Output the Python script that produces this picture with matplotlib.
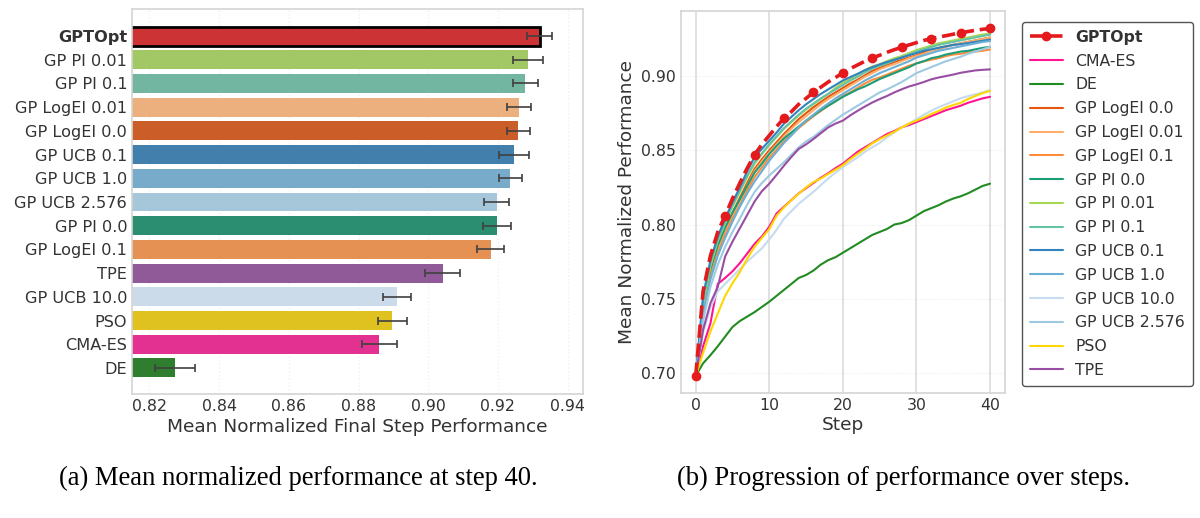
import matplotlib
matplotlib.use("Agg")
import matplotlib.pyplot as plt
import seaborn as sns

# ---------------------------------------------------------------------------
# Data
# ---------------------------------------------------------------------------

bar_methods = ["GPTOpt", "GP PI 0.01", "GP PI 0.1", "GP LogEI 0.01", "GP LogEI 0.0",
               "GP UCB 0.1", "GP UCB 1.0", "GP UCB 2.576", "GP PI 0.0", "GP LogEI 0.1",
               "TPE", "GP UCB 10.0", "PSO", "CMA-ES", "DE"]
bar_means = [0.9320, 0.9286, 0.9279, 0.9260, 0.9259, 0.9245, 0.9236, 0.9197, 0.9197,
             0.9179, 0.9041, 0.8910, 0.8897, 0.8860, 0.8274]
bar_errs = [0.0036, 0.0043, 0.0037, 0.0034, 0.0034, 0.0043, 0.0032, 0.0036, 0.0041,
            0.0039, 0.0050, 0.0040, 0.0041, 0.0050, 0.0058]

steps = list(range(41))

gptopt = [0.698, 0.755, 0.779, 0.795, 0.806, 0.8175, 0.828, 0.838, 0.847, 0.854,
          0.860, 0.866, 0.8717, 0.876, 0.881, 0.885, 0.889, 0.8925, 0.896, 0.899,
          0.9022, 0.905, 0.9075, 0.910, 0.9123, 0.914, 0.916, 0.9178, 0.9194, 0.921,
          0.9225, 0.924, 0.9252, 0.9262, 0.9272, 0.9282, 0.9292, 0.930, 0.9308, 0.9315,
          0.9321]
cma_es = [0.698, 0.718, 0.7335, 0.760, 0.764, 0.7685, 0.774, 0.7805, 0.787, 0.792,
          0.7985, 0.8075, 0.812, 0.8165, 0.821, 0.8245, 0.828, 0.8315, 0.8345, 0.838,
          0.841, 0.845, 0.849, 0.852, 0.855, 0.858, 0.861, 0.863, 0.8655, 0.867,
          0.869, 0.871, 0.873, 0.875, 0.877, 0.8785, 0.880, 0.882, 0.8835, 0.885,
          0.886]
de = [0.698, 0.7065, 0.712, 0.718, 0.7245, 0.731, 0.735, 0.738, 0.741, 0.7445,
      0.748, 0.752, 0.756, 0.760, 0.764, 0.766, 0.769, 0.773, 0.776, 0.778,
      0.781, 0.784, 0.787, 0.790, 0.793, 0.795, 0.797, 0.800, 0.801, 0.803,
      0.806, 0.809, 0.811, 0.813, 0.8155, 0.8175, 0.819, 0.821, 0.8235, 0.826,
      0.8275]
logei_00 = [0.698, 0.743, 0.768, 0.785, 0.797, 0.808, 0.818, 0.828, 0.8375, 0.844,
            0.850, 0.8555, 0.861, 0.866, 0.871, 0.875, 0.879, 0.8825, 0.886, 0.889,
            0.892, 0.895, 0.8975, 0.9005, 0.9035, 0.9055, 0.9075, 0.9095, 0.911, 0.9125,
            0.914, 0.916, 0.9175, 0.919, 0.920, 0.921, 0.922, 0.923, 0.924, 0.925,
            0.9259]
logei_001 = [0.698, 0.740, 0.766, 0.783, 0.795, 0.806, 0.816, 0.826, 0.836, 0.8425,
             0.8485, 0.854, 0.8595, 0.8645, 0.869, 0.873, 0.877, 0.881, 0.8845, 0.8875,
             0.8905, 0.8935, 0.8965, 0.8995, 0.902, 0.9045, 0.9065, 0.908, 0.910, 0.912,
             0.9135, 0.915, 0.917, 0.918, 0.9195, 0.921, 0.922, 0.923, 0.924, 0.925,
             0.926]
logei_01 = [0.698, 0.741, 0.765, 0.781, 0.793, 0.804, 0.813, 0.823, 0.832, 0.8385,
            0.845, 0.8505, 0.856, 0.8605, 0.865, 0.869, 0.873, 0.8765, 0.880, 0.883,
            0.8865, 0.889, 0.892, 0.895, 0.8975, 0.899, 0.901, 0.903, 0.905, 0.907,
            0.9085, 0.910, 0.911, 0.912, 0.9135, 0.9145, 0.915, 0.916, 0.9165, 0.917,
            0.9179]
pi_00 = [0.698, 0.746, 0.770, 0.786, 0.798, 0.808, 0.817, 0.826, 0.835, 0.841,
         0.8475, 0.853, 0.858, 0.862, 0.866, 0.870, 0.8735, 0.877, 0.880, 0.883,
         0.886, 0.8885, 0.891, 0.893, 0.8955, 0.898, 0.900, 0.902, 0.904, 0.906,
         0.9085, 0.910, 0.912, 0.913, 0.9145, 0.9155, 0.9165, 0.917, 0.918, 0.919,
         0.9197]
pi_001 = [0.698, 0.745, 0.772, 0.789, 0.801, 0.812, 0.822, 0.832, 0.841, 0.8475,
          0.8535, 0.859, 0.8645, 0.869, 0.8735, 0.8775, 0.881, 0.8845, 0.888, 0.892,
          0.8955, 0.898, 0.901, 0.904, 0.9065, 0.908, 0.910, 0.912, 0.9135, 0.9155,
          0.9175, 0.919, 0.9205, 0.922, 0.923, 0.924, 0.925, 0.926, 0.927, 0.928,
          0.9286]
pi_01 = [0.698, 0.748, 0.774, 0.790, 0.802, 0.813, 0.823, 0.833, 0.842, 0.848,
         0.854, 0.8595, 0.865, 0.8695, 0.874, 0.878, 0.8815, 0.885, 0.888, 0.891,
         0.894, 0.897, 0.8995, 0.9025, 0.905, 0.907, 0.9085, 0.9105, 0.9125, 0.9145,
         0.9165, 0.918, 0.9195, 0.921, 0.922, 0.923, 0.924, 0.925, 0.926, 0.927,
         0.9279]
ucb_01 = [0.698, 0.752, 0.776, 0.792, 0.804, 0.815, 0.825, 0.836, 0.8455, 0.851,
          0.8565, 0.862, 0.868, 0.8725, 0.877, 0.881, 0.8845, 0.888, 0.891, 0.894,
          0.897, 0.8993, 0.9015, 0.904, 0.906, 0.9078, 0.9095, 0.911, 0.9125, 0.914,
          0.9155, 0.917, 0.918, 0.919, 0.920, 0.921, 0.9215, 0.9222, 0.923, 0.9238,
          0.9245]
ucb_10 = [0.698, 0.740, 0.763, 0.779, 0.791, 0.802, 0.812, 0.821, 0.829, 0.836,
          0.843, 0.849, 0.855, 0.860, 0.8655, 0.870, 0.874, 0.878, 0.8815, 0.885,
          0.888, 0.891, 0.894, 0.897, 0.8995, 0.902, 0.904, 0.906, 0.908, 0.910,
          0.9125, 0.914, 0.9155, 0.917, 0.918, 0.919, 0.920, 0.921, 0.922, 0.923,
          0.9236]
ucb_100 = [0.698, 0.727, 0.744, 0.755, 0.760, 0.765, 0.770, 0.775, 0.7795, 0.784,
           0.790, 0.7965, 0.804, 0.809, 0.814, 0.818, 0.822, 0.8265, 0.831, 0.835,
           0.8386, 0.842, 0.8453, 0.849, 0.852, 0.855, 0.8587, 0.862, 0.8654, 0.868,
           0.871, 0.874, 0.8766, 0.879, 0.881, 0.883, 0.885, 0.8865, 0.8877, 0.889,
           0.8906]
ucb_2576 = [0.698, 0.735, 0.758, 0.773, 0.785, 0.795, 0.804, 0.8135, 0.822, 0.828,
            0.833, 0.8375, 0.842, 0.847, 0.852, 0.856, 0.859, 0.863, 0.867, 0.8705,
            0.874, 0.877, 0.880, 0.883, 0.886, 0.889, 0.891, 0.8935, 0.896, 0.899,
            0.902, 0.904, 0.906, 0.908, 0.910, 0.9115, 0.913, 0.915, 0.9165, 0.918,
            0.9197]
pso = [0.698, 0.7135, 0.728, 0.740, 0.752, 0.7605, 0.768, 0.777, 0.785, 0.791,
       0.797, 0.806, 0.8115, 0.8165, 0.8208, 0.825, 0.8286, 0.831, 0.834, 0.837,
       0.840, 0.844, 0.8476, 0.851, 0.8547, 0.8575, 0.860, 0.8625, 0.8654, 0.868,
       0.870, 0.872, 0.8744, 0.8765, 0.8788, 0.8805, 0.882, 0.8845, 0.8866, 0.8885,
       0.890]
tpe = [0.698, 0.729, 0.747, 0.758, 0.7785, 0.7885, 0.7975, 0.8065, 0.8155, 0.8225,
       0.8275, 0.8335, 0.8397, 0.8455, 0.8509, 0.854, 0.8576, 0.8615, 0.8654, 0.868,
       0.870, 0.8735, 0.8766, 0.8795, 0.8822, 0.8845, 0.8866, 0.889, 0.8911, 0.893,
       0.8944, 0.896, 0.8978, 0.899, 0.900, 0.901, 0.9022, 0.903, 0.9038, 0.9042,
       0.9045]

line_methods = ["CMA-ES", "DE", "GP LogEI 0.0", "GP LogEI 0.01", "GP LogEI 0.1",
                "GP PI 0.0", "GP PI 0.01", "GP PI 0.1", "GP UCB 0.1", "GP UCB 1.0",
                "GP UCB 10.0", "GP UCB 2.576", "PSO", "TPE"]
line_values = [cma_es, de, logei_00, logei_001, logei_01, pi_00, pi_001, pi_01,
               ucb_01, ucb_10, ucb_100, ucb_2576, pso, tpe]

colors = {
    "GPTOpt": "#e41a1c",
    "CMA-ES": "#ff1493",
    "DE": "#228b22",
    "GP LogEI 0.0": "#e6550d",
    "GP LogEI 0.01": "#fdae6b",
    "GP LogEI 0.1": "#fd8d3c",
    "GP PI 0.0": "#1b9e77",
    "GP PI 0.01": "#a6d854",
    "GP PI 0.1": "#66c2a5",
    "GP UCB 0.1": "#3182bd",
    "GP UCB 1.0": "#6baed6",
    "GP UCB 10.0": "#c6dbef",
    "GP UCB 2.576": "#9ecae1",
    "PSO": "#ffd700",
    "TPE": "#984ea3",
}

# ---------------------------------------------------------------------------
# Figure
# ---------------------------------------------------------------------------

sns.set_style("whitegrid")
plt.rcParams["font.family"] = ["DejaVu Sans"]
FS = 11.3

fig = plt.figure(figsize=(12, 5.18), dpi=100)
ax_bar = fig.add_axes([0.110, 0.2394, 0.3758, 0.7427])
ax_line = fig.add_axes([0.5675, 0.2407, 0.2698, 0.7380])

for ax in (ax_bar, ax_line):
    for sp in ax.spines.values():
        sp.set_color("#d4d4d4")
        sp.set_linewidth(1.2)
    ax.tick_params(colors="#333333", labelsize=FS, length=0)

# (a) bar chart ------------------------------------------------------------
ypos = list(range(len(bar_methods)))
for y, m, v, e in zip(ypos, bar_methods, bar_means, bar_errs):
    face = sns.desaturate(colors[m], 0.75)
    if m == "GPTOpt":
        ax_bar.barh(y, v, height=0.8, color=face, edgecolor="black", linewidth=2, zorder=2)
    else:
        ax_bar.barh(y, v, height=0.8, color=face, edgecolor="none", zorder=2)
    ax_bar.errorbar(v, y, xerr=e, fmt="none", ecolor="#404040", elinewidth=1.2,
                    capsize=2.6, capthick=1.2, zorder=3)

ax_bar.set_yticks(ypos)
ax_bar.set_yticklabels(bar_methods, fontsize=11.6)
ax_bar.get_yticklabels()[0].set_fontweight("bold")
ax_bar.set_ylim(len(bar_methods) - 1 + 1.1, -1.13)
ax_bar.set_xlim(0.815, 0.9444)
ax_bar.set_xticks([0.82, 0.84, 0.86, 0.88, 0.90, 0.92, 0.94])
ax_bar.set_xticklabels([f"{t:.2f}" for t in ax_bar.get_xticks()])
ax_bar.grid(False)
ax_bar.grid(axis="x", color="#cccccc", alpha=0.3, linestyle=":", linewidth=1)
ax_bar.set_xlabel("Mean Normalized Final Step Performance", fontsize=13.3,
                  color="#333333", labelpad=3)

# (b) progression lines ------------------------------------------------------
for m, vals in zip(line_methods, line_values):
    ax_line.plot(steps, vals, color=colors[m], linewidth=1.5, label=m, zorder=2)
ax_line.plot(steps, gptopt, color=colors["GPTOpt"], linewidth=2.6, linestyle="--",
             marker="o", markersize=6, markevery=4, label="GPTOpt", zorder=5)

ax_line.set_xticks([0, 10, 20, 30, 40])
ax_line.set_yticks([0.70, 0.75, 0.80, 0.85, 0.90])
ax_line.set_yticklabels([f"{t:.2f}" for t in ax_line.get_yticks()])
ax_line.grid(False)
ax_line.grid(axis="x", color="#dcdcdc", linewidth=1.2)
ax_line.grid(axis="y", color="#cccccc", alpha=0.35, linestyle=":", linewidth=0.8)
ax_line.set_xlabel("Step", fontsize=13.3, color="#333333", labelpad=2)
ax_line.set_ylabel("Mean Normalized Performance", fontsize=13.3, color="#333333")

handles, labels = ax_line.get_legend_handles_labels()
order = [labels.index("GPTOpt")] + [labels.index(m) for m in line_methods]
leg = fig.legend([handles[i] for i in order], [labels[i] for i in order],
                 loc="upper left", bbox_to_anchor=(0.8517, 0.9575), fontsize=FS,
                 frameon=True, fancybox=True, framealpha=1, edgecolor="#555555",
                 labelspacing=0.56, handlelength=2.1, borderpad=0.5,
                 borderaxespad=0)
leg.get_frame().set_linewidth(1.0)
for t in leg.get_texts():
    t.set_color("#333333")
leg.get_texts()[0].set_fontweight("bold")

# captions --------------------------------------------------------------------
cap_kw = dict(ha="center", va="center", fontsize=19.2, family=["Liberation Serif"],
              color="black")
fig.text(0.2483, 0.0772, "(a) Mean normalized performance at step 40.", **cap_kw)
fig.text(0.7533, 0.0772, "(b) Progression of performance over steps.", **cap_kw)

fig.savefig("out.png", dpi=100)
plt.close(fig)
